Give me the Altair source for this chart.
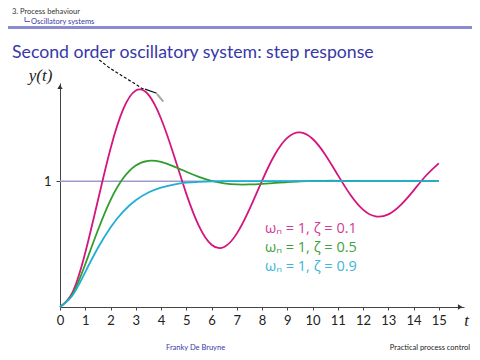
import altair as alt
import pandas as pd

# time axis (s)
t_vals = [0.0, 0.5, 1.0, 1.5, 2.0, 2.5, 3.0, 3.5, 4.0, 4.5, 5.0, 5.5, 6.0, 6.5, 7.0, 7.5,
          8.0, 8.5, 9.0, 9.5, 10.0, 10.5, 11.0, 11.5, 12.0, 12.5, 13.0, 13.5, 14.0, 14.5, 15.0]
# step responses
y_z01 = [0.000, 0.118, 0.431, 0.846, 1.258, 1.570, 1.720, 1.688, 1.498, 1.212, 0.901, 0.645,
         0.495, 0.477, 0.583, 0.776, 1.003, 1.208, 1.344, 1.388, 1.337, 1.212, 1.050, 0.892,
         0.774, 0.720, 0.736, 0.812, 0.925, 1.045, 1.142]
y_z05 = [0.000, 0.104, 0.340, 0.610, 0.850, 1.023, 1.125, 1.162, 1.153, 1.118, 1.075, 1.034,
         1.002, 0.983, 0.974, 0.974, 0.979, 0.986, 0.993, 0.998, 1.002, 1.003, 1.003, 1.002,
         1.001, 1.000, 1.000, 1.000, 1.000, 1.000, 1.000]
y_z09 = [0.000, 0.093, 0.277, 0.469, 0.632, 0.758, 0.848, 0.910, 0.949, 0.973, 0.988, 0.995,
         0.999, 1.000, 1.000, 1.000, 1.000, 1.000, 1.000, 1.000, 1.000, 1.000, 1.000, 1.000,
         1.000, 1.000, 1.000, 1.000, 1.000, 1.000, 1.000]
series_names = ["zeta 0.1", "zeta 0.5", "zeta 0.9"]
series_colors = ["#d4157f", "#2f9e2f", "#22aed3"]
legend_labels = ["ωₙ = 1, ζ = 0.1", "ωₙ = 1, ζ = 0.5", "ωₙ = 1, ζ = 0.9"]
legend_colors = ["#d23c94", "#3ea33e", "#3cb6d9"]

x_ticks = [0, 1, 2, 3, 4, 5, 6, 7, 8, 9, 10, 11, 12, 13, 14, 15]
y_ticks = [1]

# setpoint line
ref_t = [0, 15]
ref_y = [1, 1]

# hand-drawn pointer (dashed), in data coordinates
ptr_t = [1.556, 1.980, 2.507, 3.038, 3.236, 3.366]
ptr_y = [1.963, 1.897, 1.831, 1.765, 1.738, 1.731]
ptr2_t = [3.366, 3.830]
ptr2_y = [1.731, 1.699]
ptr3_t = [3.842, 4.091]
ptr3_y = [1.693, 1.632]

rows = []
for name, ys in zip(series_names, [y_z01, y_z05, y_z09]):
    for t, y in zip(t_vals, ys):
        rows.append({"t": t, "y": y, "series": name})
df = pd.DataFrame(rows)

xs = alt.Scale(domain=[0, 16], nice=False)
ys_ = alt.Scale(domain=[0, 1.78], nice=False)

xaxis = alt.Axis(values=x_ticks, format="d", title="t", titleFont="Liberation Serif",
                 titleFontStyle="italic", titleFontWeight="normal", titleFontSize=17,
                 titleAngle=0, titleX=406, titleY=13, titleAlign="center", titleBaseline="middle",
                 titleColor="#222", labelFont="Lato", labelFontSize=13, labelColor="#222",
                 labelPadding=4, labelFlush=False, labelOverlap=False, domainColor="#444",
                 domainWidth=1, tickColor="#444", tickSize=3, grid=False)
yaxis = alt.Axis(values=y_ticks, format="d", title="y(t)", titleFont="Liberation Serif",
                 titleFontStyle="italic", titleFontWeight="normal", titleFontSize=17,
                 titleAngle=0, titleX=-20, titleY=-8, titleAlign="center", titleBaseline="middle",
                 titleColor="#222", labelFont="Lato", labelFontSize=13, labelColor="#222",
                 labelPadding=5, domainColor="#444", domainWidth=1, tickColor="#444",
                 tickSize=4, grid=False)

X = alt.X("t:Q", scale=xs, axis=xaxis)
Y = alt.Y("y:Q", scale=ys_, axis=yaxis)

ref = alt.Chart(pd.DataFrame({"t": ref_t, "y": ref_y})).mark_line(
    color="#9c9ccf", strokeWidth=1.5).encode(x=X, y=Y)

curves = alt.Chart(df).mark_line(strokeWidth=1.8, interpolate="natural").encode(
    x=X, y=Y,
    color=alt.Color("series:N", scale=alt.Scale(domain=series_names, range=series_colors),
                    legend=None))

arrows = alt.Chart(pd.DataFrame({"t": [15.85], "y": [0]})).mark_point(
    shape="triangle-right", filled=True, size=28, color="#333", opacity=1).encode(x=X, y=Y)
arrows_y = alt.Chart(pd.DataFrame({"t": [0], "y": [1.75]})).mark_point(
    shape="triangle-up", filled=True, size=28, color="#333", opacity=1).encode(x=X, y=Y)


def text(label, x, y, size, color, font="Lato", align="left", style="normal", baseline="alphabetic"):
    return alt.Chart(pd.DataFrame({"label": [label]})).mark_text(
        align=align, baseline=baseline, font=font, fontSize=size, color=color,
        fontStyle=style).encode(x=alt.value(x), y=alt.value(y), text="label:N")


def rule(x, x2, y, y2, color, width):
    return alt.Chart(pd.DataFrame({"a": [0]})).mark_rule(color=color, strokeWidth=width).encode(
        x=alt.value(x), x2=alt.value(x2), y=alt.value(y), y2=alt.value(y2))


bar = alt.Chart(pd.DataFrame({"a": [0]})).mark_rect(color="#8b8bd2").encode(
    x=alt.value(-52), x2=alt.value(412), y=alt.value(-57), y2=alt.value(-54))

title = text("Second order oscillatory system: step response", -48, -25, 17.7, "#3838a8")
h1 = text("3. Process behaviour", -48, -69, 7.5, "#333")
c1 = rule(-35, -35, -66, -61.5, "#3838a8", 0.8)
c2 = rule(-35, -30, -61.5, -61.5, "#3838a8", 0.8)
h2 = text("Oscillatory systems", -29, -59, 7.5, "#3838a8")
f1 = text("Franky De Bruyne", 106, 267, 7.5, "#3838a8")
f2 = text("Practical process control", 410, 267, 7.5, "#222", align="right")

legend = [text(l, 205, y, 14.5, c, font="Open Sans", baseline="middle")
          for l, c, y in zip(legend_labels, legend_colors, [146, 165, 184])]

ptr = alt.Chart(pd.DataFrame({"t": ptr_t, "y": ptr_y})).mark_line(
    color="#111", strokeWidth=1.2, strokeDash=[3, 2], clip=False).encode(x=X, y=Y)
ptr2 = alt.Chart(pd.DataFrame({"t": ptr2_t, "y": ptr2_y})).mark_line(
    color="#111", strokeWidth=1.2, clip=False).encode(x=X, y=Y)
ptr3 = alt.Chart(pd.DataFrame({"t": ptr3_t, "y": ptr3_y})).mark_line(
    color="#aaa", strokeWidth=2.2, clip=False).encode(x=X, y=Y)

chart = alt.layer(
    ref, curves, arrows, arrows_y, bar, title, h1, c1, c2, h2, f1, f2, *legend, ptr, ptr2, ptr3
).properties(
    width=404, height=224,
    padding={"left": 52, "top": 75, "right": 8, "bottom": 45},
    autosize=alt.AutoSizeParams(type="none"),
    background="white",
).configure_view(stroke=None)

chart.save("out.html", embed_options={"renderer": "svg", "actions": False})
